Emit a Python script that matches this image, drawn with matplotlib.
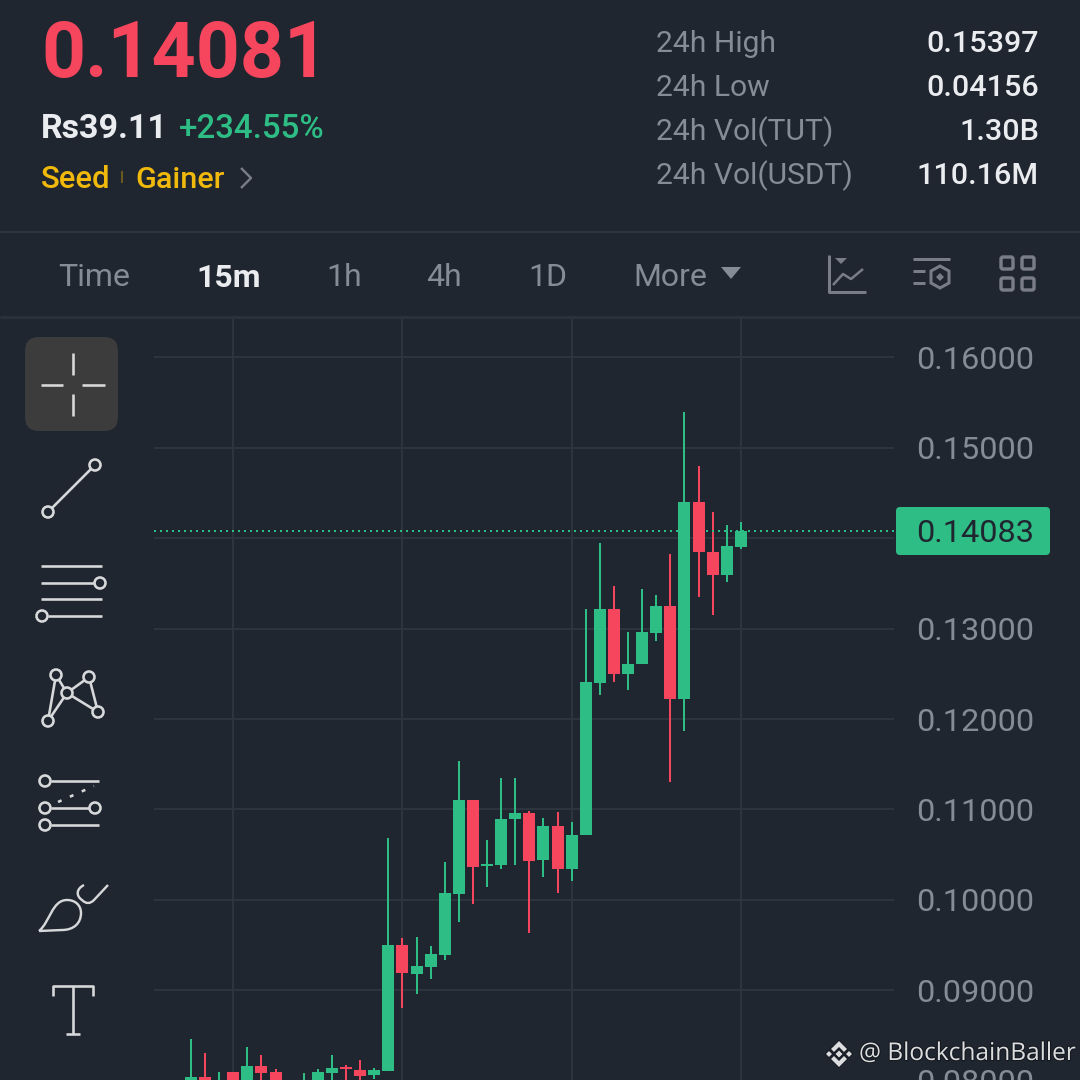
import matplotlib
matplotlib.use("Agg")
import matplotlib.pyplot as plt
from matplotlib.patches import FancyBboxPatch, Circle, Polygon, PathPatch
from matplotlib.path import Path
import matplotlib.patheffects as pe

# ---- data ----
opens = [0.07952, 0.08041, 0.07985, 0.08096, 0.07952, 0.08163, 0.08096, 0.07985, 0.07952, 0.07952,
         0.08085, 0.08151, 0.08118, 0.08063, 0.08107, 0.09501, 0.09180, 0.09258, 0.09390, 0.10065,
         0.11105, 0.10375, 0.10386, 0.10895, 0.10961, 0.10441, 0.10817, 0.10342, 0.10718, 0.12399,
         0.13218, 0.12499, 0.12610, 0.12952, 0.13251, 0.12222, 0.14402, 0.13848, 0.13594, 0.13904]
closes = [0.08041, 0.07952, 0.07985, 0.07952, 0.08163, 0.08085, 0.07952, 0.07952, 0.07985, 0.08096,
          0.08140, 0.08129, 0.08052, 0.08118, 0.09501, 0.09191, 0.09269, 0.09402, 0.10076, 0.11105,
          0.10364, 0.10397, 0.10895, 0.10961, 0.10430, 0.10817, 0.10342, 0.10718, 0.12410, 0.13218,
          0.12499, 0.12610, 0.12963, 0.13251, 0.12222, 0.14402, 0.13848, 0.13594, 0.13915, 0.14081]
highs = [0.08461, 0.08306, 0.08096, 0.08096, 0.08373, 0.08284, 0.08129, 0.08000, 0.08085, 0.08129,
         0.08284, 0.08174, 0.08229, 0.08140, 0.10685, 0.09579, 0.09590, 0.09490, 0.10419, 0.11536,
         0.11105, 0.10663, 0.11348, 0.11348, 0.10983, 0.10906, 0.10972, 0.10862, 0.13218, 0.13948,
         0.13472, 0.12963, 0.13439, 0.13373, 0.13826, 0.15397, 0.14800, 0.14291, 0.14147, 0.14180]
lows = [0.07897, 0.07897, 0.07842, 0.07897, 0.07952, 0.07952, 0.07952, 0.07897, 0.07897, 0.07952,
        0.07952, 0.07952, 0.07952, 0.08019, 0.08107, 0.08804, 0.08959, 0.09125, 0.09335, 0.09755,
        0.09955, 0.10143, 0.10342, 0.10386, 0.09634, 0.10253, 0.10076, 0.10209, 0.10718, 0.12267,
        0.12410, 0.12322, 0.12610, 0.12864, 0.11304, 0.11868, 0.13351, 0.13152, 0.13517, 0.13882]
y_ticks = [0.08, 0.09, 0.10, 0.11, 0.12, 0.13, 0.14, 0.15, 0.16]
x_grid = [3, 15, 27, 39]
last_price = 0.14083

stats_labels = ["24h High", "24h Low", "24h Vol(TUT)", "24h Vol(USDT)"]
stats_values = ["0.15397", "0.04156", "1.30B", "110.16M"]

BG = "#1f2630"; GREEN = "#2ebd85"; RED = "#f6465d"; GRID = "#2d343e"
TXT = "#868c95"; WHITE = "#eaecef"; YEL = "#f0b90b"; ICON = "#d7d8da"; ICON2 = "#787d87"
FONT = "Roboto"
plt.rcParams["font.family"] = [FONT, "DejaVu Sans"]

W = H = 1080
px = 72 / 100  # points per pixel at dpi=100
fig = plt.figure(figsize=(10.8, 10.8), dpi=100, facecolor=BG)

# ---- chart axes: x 154..894 px, y 317..1082 px ----
ax = fig.add_axes([154 / W, (W - 1082) / H, (894 - 154) / W, (1082 - 317) / H], facecolor="none")
ax.set_xlim(-2.62, 49.86)
ax.set_ylim(0.07985, 0.16448)
for s in ax.spines.values():
    s.set_visible(False)
ax.yaxis.tick_right()
ax.set_yticks(y_ticks)
# the 0.14000 label sits hidden behind the last-price tag
ax.set_yticklabels(["" if abs(t - 0.14) < 1e-9 else f"{t:.5f}" for t in y_ticks])
ax.tick_params(axis="y", length=0, pad=22 * px, labelsize=32.5 * px, labelcolor=TXT)
ax.set_xticks(x_grid)
ax.tick_params(axis="x", length=0, labelbottom=False)
ax.grid(True, color=GRID, lw=2 * px, zorder=0)
ax.set_axisbelow(True)

for i in range(len(opens)):
    c = GREEN if closes[i] >= opens[i] else RED
    ax.vlines(i, lows[i], highs[i], color=c, lw=2 * px, zorder=2)
    ax.bar(i, abs(closes[i] - opens[i]), bottom=min(opens[i], closes[i]), width=0.85, color=c, lw=0, zorder=3)

ax.plot([-2.62, 49.86], [last_price] * 2, color=GREEN, lw=2 * px, ls=(0, (1, 2)), zorder=2.5)

# ---- overlay in pixel coordinates for the app chrome ----
ov = fig.add_axes([0, 0, 1, 1], facecolor="none")
ov.set_xlim(0, W); ov.set_ylim(W, 0); ov.axis("off")

def T(x, y, s, size, color, weight="normal", ha="left", **kw):
    return ov.text(x, y, s, fontsize=size * px, color=color, fontweight=weight, ha=ha, va="center", **kw)

def L(xs, ys, color=ICON, w=2.6, **kw):
    ov.plot(xs, ys, color=color, lw=w * px, solid_capstyle="butt", **kw)

def C(x, y, r=5.5, color=ICON, w=2.6):
    ov.add_patch(Circle((x, y), r, fill=False, ec=color, lw=w * px))

# header
T(41, 56, "0.14081", 77, RED, "bold")
T(41, 129, "Rs39.11", 34, WHITE, "bold")
T(179, 129, "+234.55%", 33, GREEN, "medium")
T(41, 180, "Seed", 31, YEL, "medium")
L([122, 122], [171, 183], color="#6b5a20", w=2)
T(135, 180, "Gainer", 30.5, YEL, "medium")
L([241, 251, 241], [168, 178, 188], color="#787d87", w=2.4)
for lab, val, y in zip(stats_labels, stats_values, [44, 88, 132, 176]):
    T(656, y, lab, 30, TXT)
    T(1039, y, val, 30.5, WHITE, "medium", ha="right")

L([0, W], [232, 232], color="#343a44", w=1.5)
L([0, W], [317, 317], color="#2a313b", w=3)

# tabs
for x, s, col, wgt in [(58, "Time", TXT, "normal"), (196, "15m", WHITE, "bold"), (326, "1h", TXT, "normal"),
                       (426, "4h", TXT, "normal"), (528, "1D", TXT, "normal"), (633, "More", TXT, "normal")]:
    T(x, 278, s, 32, col, wgt)
ov.add_patch(Polygon([[721, 267], [741, 267], [731, 279]], fc=TXT, ec="none"))

# top-right icons
L([829, 829, 866], [255, 292, 292], color=ICON2, w=3)
ov.add_patch(Polygon([[835, 258], [847, 258], [841, 264]], fc=ICON2, ec="none"))
L([833, 843, 851, 863], [285, 274, 279, 269], color=ICON2, w=2.5)
L([913, 950], [259, 259], color=ICON2, w=3)
L([913, 925], [271, 271], color=ICON2, w=3)
L([913, 925], [283, 283], color=ICON2, w=3)
ov.add_patch(Polygon([[940, 266], [949, 271], [949, 283], [940, 288], [931, 283], [931, 271]], closed=True, fill=False, ec=ICON2, lw=3 * px))
ov.add_patch(Polygon([[940, 273], [944, 277], [940, 281], [936, 277]], fc=ICON2, ec="none"))
for x0 in (1001, 1022):
    for y0 in (257, 278):
        ov.add_patch(FancyBboxPatch((x0, y0), 12, 12, boxstyle="round,pad=0,rounding_size=2", fill=False, ec=ICON2, lw=3.4 * px))

# left toolbar
ov.add_patch(FancyBboxPatch((25, 337), 93, 94, boxstyle="round,pad=0,rounding_size=14", fc="#3c3c3c", ec="none"))
L([73, 73], [353, 375]); L([73, 73], [394, 416]); L([41, 63], [385, 385]); L([82, 105], [385, 385])
C(48, 512); C(95, 465); L([52, 91], [508, 469])
L([41, 102], [566, 566]); L([41, 95], [583, 583]); C(100, 583)
L([41, 102], [599, 599]); L([48, 102], [616, 616]); C(42, 616)
pts = {"a": (56, 675), "b": (89, 677), "c": (67, 693), "d": (48, 721), "e": (98, 712)}
for p, q in ["ac", "ad", "bc", "be", "cd", "ce"]:
    L([pts[p][0], pts[q][0]], [pts[p][1], pts[q][1]], zorder=1)
for p in pts.values():
    ov.add_patch(Circle(p, 5.5, fc=BG, ec=ICON, lw=2.6 * px, zorder=2))
C(45, 781); C(45, 808); C(95, 808); C(45, 825)
L([51, 99], [781, 781]); L([51, 89], [808, 808]); L([51, 99], [825, 825])
ov.plot([58, 94], [802, 786], color=ICON, lw=2.6 * px, ls=(0, (1.5, 3.5)))
brush = Path([(39, 931), (50, 922), (52, 900), (67, 900), (76, 900), (81, 906), (81, 913),
              (81, 923), (74, 930), (62, 930), (39, 931)],
             [Path.MOVETO] + [Path.CURVE4] * 9 + [Path.LINETO])
ov.add_patch(PathPatch(brush, fill=False, ec=ICON, lw=2.4 * px))
handle = Path([(84, 885), (76, 889), (76, 896), (82, 900), (86, 904), (90, 904), (94, 900), (108, 885)],
              [Path.MOVETO] + [Path.CURVE4] * 6 + [Path.LINETO])
ov.add_patch(PathPatch(handle, fill=False, ec=ICON, lw=2.4 * px))
L([53, 53, 93, 93], [996, 986, 986, 996]); L([73, 73], [986, 1034]); L([66, 80], [1034, 1034])

# price tag
ov.add_patch(FancyBboxPatch((896, 507), 154, 48, boxstyle="round,pad=0,rounding_size=4", fc=GREEN, ec="none"))
T(975, 533, f"{last_price:.5f}", 32.5, BG, ha="center")

# watermark (Binance-style mark + handle)
MARK = "#dcdddf"
edge = [pe.withStroke(linewidth=1.2, foreground="#14181e")]
for poly in ([[839, 1041], [847, 1049], [844, 1052], [839, 1047], [834, 1052], [831, 1049]],
             [[839, 1067], [847, 1059], [844, 1056], [839, 1061], [834, 1056], [831, 1059]],
             [[839, 1050.5], [842.5, 1054], [839, 1057.5], [835.5, 1054]],
             [[829, 1051], [832, 1054], [829, 1057], [826, 1054]],
             [[849, 1051], [852, 1054], [849, 1057], [846, 1054]]):
    ov.add_patch(Polygon(poly, fc=MARK, ec="none", path_effects=edge))
ov.text(859, 1054, "@ BlockchainBaller", fontsize=24.5 * px, color=MARK, family=["Open Sans", "DejaVu Sans"],
        ha="left", va="center", path_effects=[pe.withStroke(linewidth=1.5, foreground="#14181e")])

fig.savefig("out.png", dpi=100, facecolor=BG)
